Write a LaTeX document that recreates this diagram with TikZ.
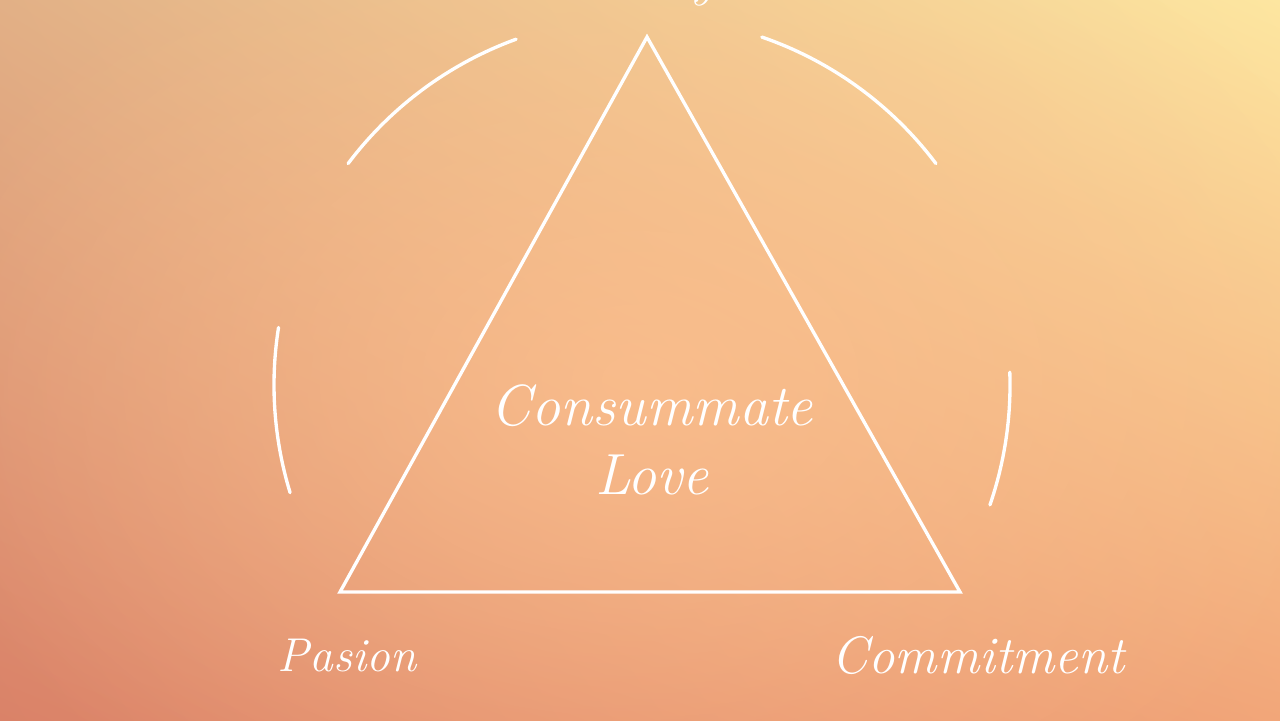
\documentclass[tikz,border=0pt]{standalone}
\usetikzlibrary{positioning,shadings,fadings}
\definecolor{peachTL}{RGB}{226,176,134}
\definecolor{peachTR}{RGB}{253,230,160}
\definecolor{peachBL}{RGB}{218,130,104}
\definecolor{peachBR}{RGB}{242,166,121}
\definecolor{peachGlow}{RGB}{255,194,144}
\tikzfading[name=glowfade, inner color=transparent!30, outer color=transparent!100]
\newcommand{\handwrite}{\itshape}
\tikzset{every node/.style={align=center, text=white, inner sep=0pt}, font=\handwrite}

\begin{document}
\begin{tikzpicture}[x=0.01cm, y=-0.01cm, line width=0.95pt,
    side/.style={draw=white, line cap=round, line join=miter},
    ring/.style={draw=white, line cap=round}]
    \useasboundingbox (0,0) rectangle (1280,720);
    \clip (0,0) rectangle (1280,720);
    % background
    \shade[upper left=peachTL, upper right=peachTR, lower left=peachBL, lower right=peachBR]
        (0,0) rectangle (1280,720);
    \fill[peachGlow, path fading=glowfade] (640,380) ellipse (760 and 520);
    % triangle
    \coordinate (apex) at (647,37);
    \coordinate (bl) at (340,592);
    \coordinate (br) at (960,592);
    \path[side] (apex) -- (br) -- (bl) -- cycle;
    % broken circle
    \coordinate (mid) at (642,385);
    \path[ring] (mid) ++(217:368) arc[start angle=217, end angle=250, radius=368];
    \path[ring] (mid) ++(289:368) arc[start angle=289, end angle=323, radius=368];
    \path[ring] (mid) ++(-2:368) arc[start angle=-2, end angle=19, radius=368];
    \path[ring] (mid) ++(163:368) arc[start angle=163, end angle=189, radius=368];
    % labels
    \node[font=\handwrite\fontsize{16.5}{19.5}\selectfont] (love) at (652,440) {Consummate\\Love};
    \node[font=\handwrite\fontsize{13.5}{16}\selectfont] (passion) at (347,655) {Pasion};
    \node[font=\handwrite\fontsize{15}{18}\selectfont] (commit) at (978,655) {Commitment};
    \node[font=\handwrite\fontsize{15}{18}\selectfont, anchor=base east] (intim) at (716,-5) {Intimacy};
\end{tikzpicture}
\end{document}
